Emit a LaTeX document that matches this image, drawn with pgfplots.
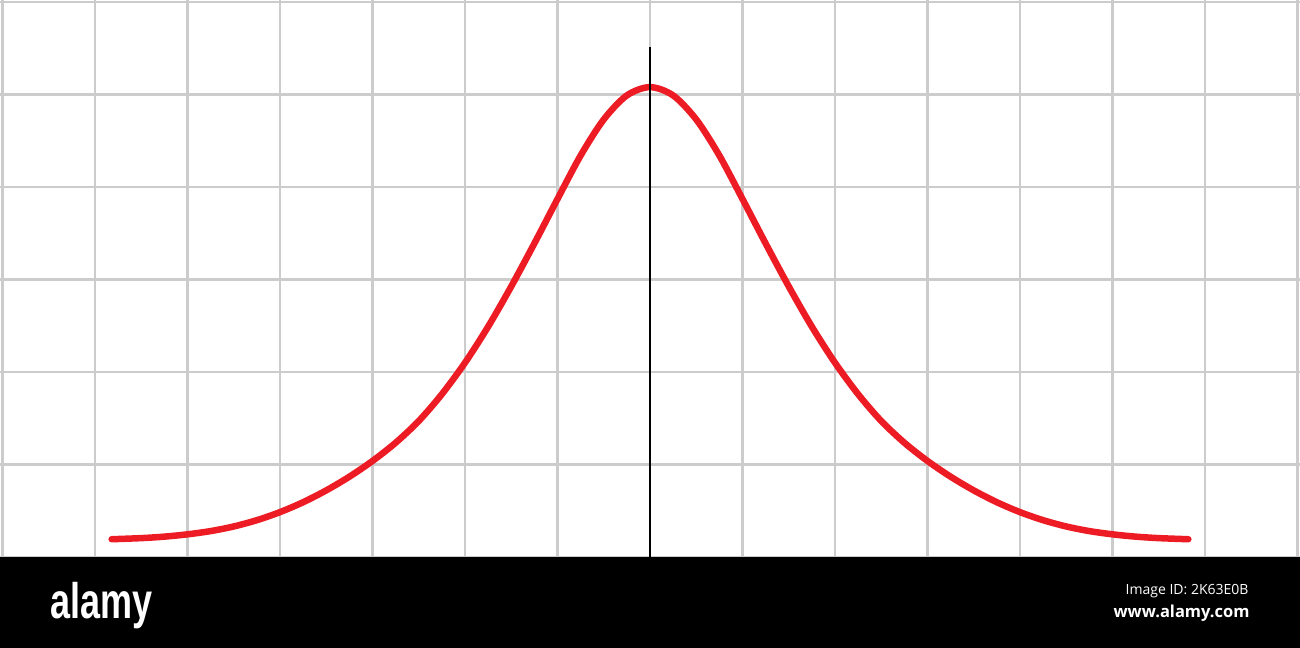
\documentclass[border=0pt]{standalone}
\usepackage{graphicx}
\usepackage{fontspec}
\usepackage{pgfplots}
\pgfplotsset{compat=1.18}
\newfontfamily\brandfont{Liberation Sans}
\newfontfamily\idfont{Open Sans}
\definecolor{curvered}{RGB}{237,28,36}
\definecolor{gridgray}{RGB}{204,204,204}

\begin{document}
\begin{tikzpicture}
\begin{axis}[%
  name=ax, at={(0,0)}, anchor=south west,
  scale only axis, width=520pt, height=222.8pt,
  xmin=-7.027, xmax=7.027, ymin=0, ymax=6.0216,
  axis line style={draw=none},
  xtick={-7,...,7}, ytick={0,...,6},
  xticklabels={}, yticklabels={},
  major tick length=0pt,
  grid=major, grid style={line width=1pt, gridgray},
  clip=false
]
% bell curve
\addplot[curvered, line width=2.6pt, smooth, line cap=round] coordinates {
  (-5.82,0.192) (-5.50,0.204) (-5.25,0.220) (-5.00,0.245) (-4.75,0.280)
  (-4.50,0.330) (-4.25,0.398) (-4.00,0.485) (-3.75,0.592) (-3.50,0.720)
  (-3.25,0.868) (-3.00,1.038) (-2.75,1.235) (-2.50,1.470) (-2.25,1.760)
  (-2.00,2.100) (-1.75,2.490) (-1.50,2.925) (-1.25,3.390) (-1.00,3.870)
  (-0.75,4.340) (-0.50,4.730) (-0.25,4.990) (0,5.080)
  (0.25,4.990) (0.50,4.730) (0.75,4.340) (1.00,3.870) (1.25,3.390)
  (1.50,2.925) (1.75,2.490) (2.00,2.100) (2.25,1.760) (2.50,1.470)
  (2.75,1.235) (3.00,1.038) (3.25,0.868) (3.50,0.720) (3.75,0.592)
  (4.00,0.485) (4.25,0.398) (4.50,0.330) (4.75,0.280) (5.00,0.245)
  (5.25,0.220) (5.50,0.204) (5.82,0.192)
};
% centre line
\addplot[black, line width=0.8pt] coordinates {(0,0) (0,5.517)};
\end{axis}
% bottom band
\fill[black] (0,-36.4pt) rectangle (520pt,0pt);
\node[anchor=base west, text=white, inner sep=0pt] at (20pt,-24.8pt)
  {\scalebox{0.72}[1]{\brandfont\bfseries\fontsize{20pt}{20pt}\selectfont alamy}};
\node[anchor=base east, text=white, inner sep=0pt] at (499.6pt,-15.2pt)
  {\idfont\fontsize{5.6pt}{6pt}\selectfont Image ID: 2K63E0B};
\node[anchor=base east, text=white, inner sep=0pt] at (500pt,-24.4pt)
  {\idfont\bfseries\fontsize{6.6pt}{8pt}\selectfont www.alamy.com};
\pgfresetboundingbox
\useasboundingbox (0,-36.4pt) rectangle (520pt,222.8pt);
\end{tikzpicture}
\end{document}
